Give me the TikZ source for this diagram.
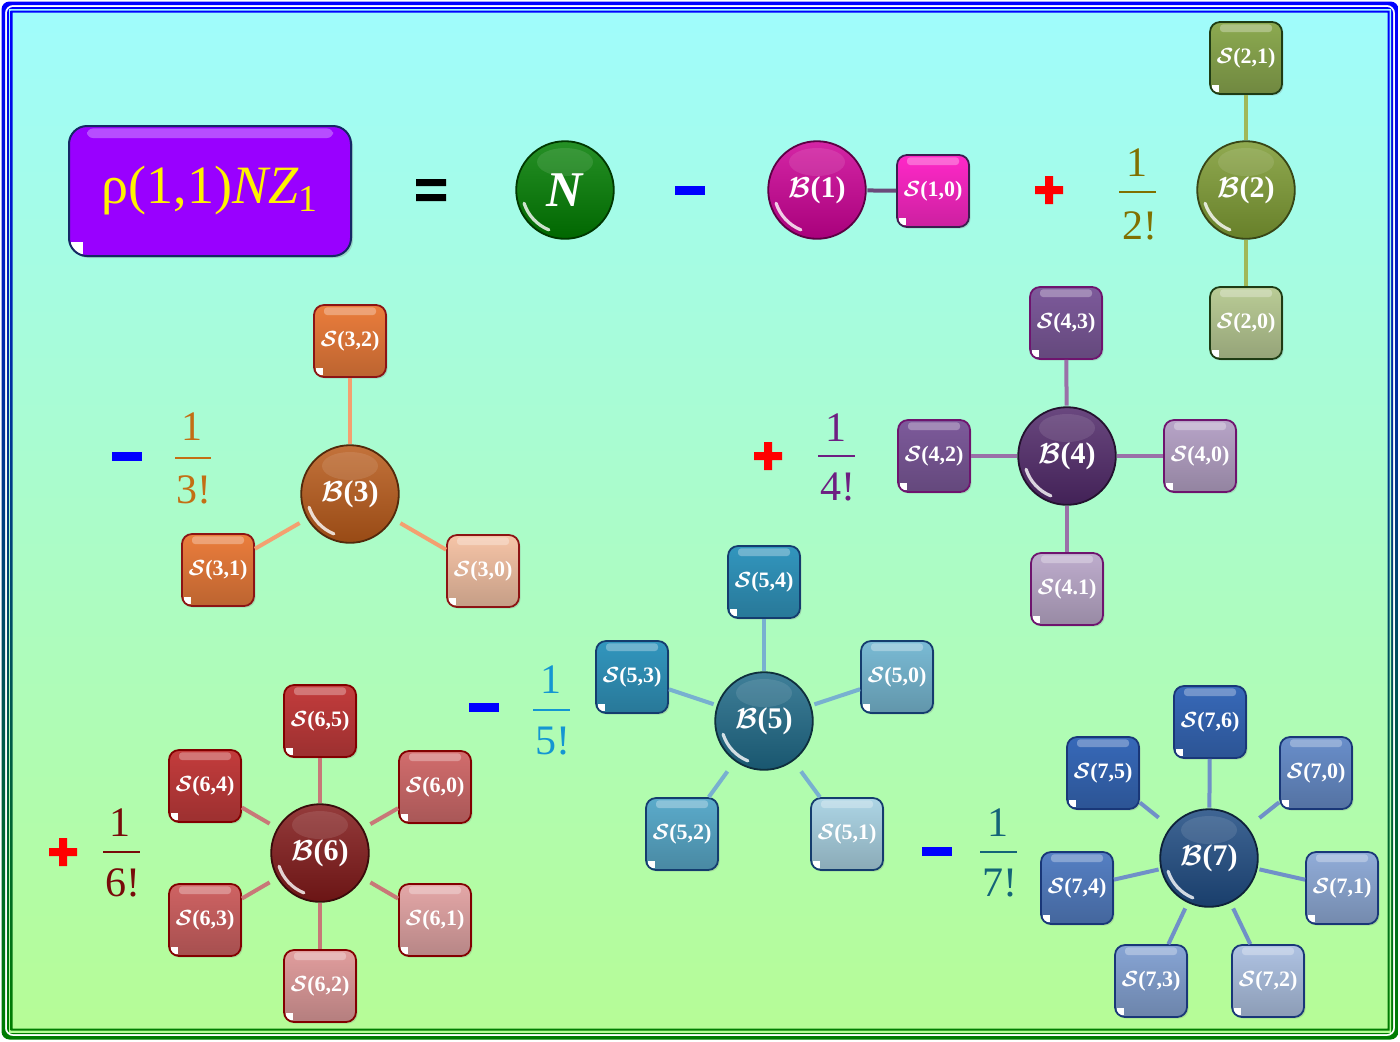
\documentclass[tikz,border=0pt]{standalone}
\usepackage{fontspec}
\setmainfont{Liberation Serif}
\usetikzlibrary{shadows}
\definecolor{bgtop}{RGB}{160,252,252}
\definecolor{bgbot}{RGB}{182,252,150}
\definecolor{frtop}{RGB}{0,0,255}
\definecolor{frbot}{RGB}{0,125,0}
\definecolor{mainpurple}{RGB}{153,0,255}
\definecolor{mainborder}{RGB}{20,40,100}
\definecolor{ngreen}{RGB}{0,125,0}
\definecolor{bA}{RGB}{205,0,150}
\definecolor{bB}{RGB}{125,155,50}
\definecolor{bC}{RGB}{185,90,25}
\definecolor{bD}{RGB}{80,40,105}
\definecolor{bE}{RGB}{30,105,135}
\definecolor{bF}{RGB}{130,25,25}
\definecolor{bG}{RGB}{30,75,130}
\definecolor{sA}{RGB}{255,40,200}
\definecolor{sB}{RGB}{140,170,80}
\definecolor{sC}{RGB}{235,125,60}
\definecolor{sD}{RGB}{125,90,155}
\definecolor{sE}{RGB}{50,150,190}
\definecolor{sF}{RGB}{195,60,60}
\definecolor{sG}{RGB}{55,105,185}
\definecolor{kA}{RGB}{60,30,80}
\definecolor{kB}{RGB}{30,60,20}
\definecolor{kC}{RGB}{140,20,20}
\definecolor{kD}{RGB}{110,20,110}
\definecolor{kE}{RGB}{20,60,110}
\definecolor{kF}{RGB}{130,0,0}
\definecolor{kG}{RGB}{25,55,120}
\definecolor{lA}{RGB}{106,74,122}
\definecolor{lB}{RGB}{160,184,88}
\definecolor{lC}{RGB}{244,160,112}
\definecolor{lD}{RGB}{154,112,168}
\definecolor{lE}{RGB}{120,176,208}
\definecolor{lF}{RGB}{200,120,120}
\definecolor{lG}{RGB}{112,144,200}
\definecolor{fB}{RGB}{128,112,0}
\definecolor{fC}{RGB}{195,110,20}
\definecolor{fD}{RGB}{110,30,130}
\definecolor{fE}{RGB}{20,150,210}
\definecolor{fF}{RGB}{120,10,10}
\definecolor{fG}{RGB}{20,100,120}
\newcommand\Slab[1]{{\boldmath$\mathcal{S}$}(#1)}
\newcommand\Blab[1]{{\boldmath$\mathcal{B}$}(#1)}
\begin{document}
\begin{tikzpicture}[x=0.5pt,y=-0.5pt,
  ball/.style={rectangle, minimum size=50pt, inner sep=0pt, text=white,
    font=\bfseries\fontsize{15}{18}\selectfont,
    path picture={
      \fill[top color=#1!85!white, bottom color=#1!82!black] (path picture bounding box.center) circle (24.4pt);
      \fill[white, opacity=0.1] ([yshift=14pt]path picture bounding box.center) ellipse (14pt and 7pt);
      \draw[white, line width=1.6pt, opacity=0.8, line cap=round] ([shift={(198:21.5pt)}]path picture bounding box.center) arc[start angle=198, end angle=248, radius=21.5pt];
      \draw[#1!45!black, line width=0.9pt] (path picture bounding box.center) circle (24.4pt);
    }},
  sbox/.style n args={3}{rectangle, rounded corners=5pt, minimum size=36pt, inner sep=0pt,
    top color=#1!#2!white, bottom color=#1!#2!white!80!black, draw=#3, line width=0.9pt,
    text=white, font=\bfseries\fontsize{11}{13}\selectfont,
    drop shadow={opacity=0.25, shadow xshift=0.8pt, shadow yshift=-0.8pt},
    path picture={
      \fill[white, opacity=0.3, rounded corners=1.5pt] ([shift={(5pt,-1.2pt)}]path picture bounding box.north west) rectangle ([shift={(-5pt,-5pt)}]path picture bounding box.north east);
      \fill[white, sharp corners] ([shift={(1.2pt,1.2pt)}]path picture bounding box.south west) rectangle ++(3.4pt,3.4pt);
    }},
  mainbox/.style={rectangle, rounded corners=9pt, minimum width=141pt, minimum height=65pt,
    fill=mainpurple, draw=mainborder, line width=1pt, text=yellow,
    font=\fontsize{27}{30}\selectfont,
    drop shadow={opacity=0.3, shadow xshift=1pt, shadow yshift=-1pt},
    path picture={
      \fill[white, opacity=0.3, rounded corners=3pt] ([shift={(9pt,-1.2pt)}]path picture bounding box.north west) rectangle ([shift={(-9pt,-6pt)}]path picture bounding box.north east);
      \fill[white, sharp corners] ([shift={(1.2pt,1.2pt)}]path picture bounding box.south west) rectangle ++(6pt,6pt);
    }},
  link/.style={draw=#1, line width=2pt},
  fracnum/.style={text=#1, inner sep=0pt, font=\fontsize{21}{24}\selectfont},
  fracbar/.style={draw=#1, line width=1.4pt},
  plusop/.pic={\fill[red] (-14,-4) rectangle (14,4) (-4,-14) rectangle (4,14);},
  minusop/.pic={\fill[blue] (-15,-4.5) rectangle (15,4.5);},
  equalsop/.pic={\fill[black] (-15,-11) rectangle (15,-4) (-15,4) rectangle (15,11);}
]
\useasboundingbox (0,0) rectangle (1400,1041);
% frame and background
\fill[white] (0,0) rectangle (1400,1041);
\shade[top color=frtop, bottom color=frbot, even odd rule, rounded corners=4pt] (1.5,1.5) rectangle (1398.5,1039.5) (5,5) rectangle (1395,1036);
\shade[top color=frtop, bottom color=frbot, even odd rule, rounded corners=3pt] (7,7) rectangle (1393,1034) (9,9) rectangle (1391,1032);
\shade[top color=bgtop, bottom color=bgbot] (9,9) rectangle (1391,1032);
\shade[top color=frtop, bottom color=frbot, even odd rule] (10.5,10.5) rectangle (1389.5,1030.5) (12.5,12.5) rectangle (1387.5,1028.5);

% left-hand side
\node[mainbox] (lhs) at (210,191) {ρ(1,1)\textit{NZ}\textsubscript{1}};
\pic at (431,190) {equalsop};
\node[ball=ngreen, font=\bfseries\itshape\fontsize{25}{28}\selectfont] (n) at (565,190) {N};
\pic at (690,190) {minusop};

% term 1
\node[ball=bA] (b1) at (817,190) {\Blab{1}};
\node[sbox={sA}{100}{kA}] (s10) at (933,191) {\Slab{1,0}};
\draw[link=lA] (b1) -- (s10);

% term 2
\pic at (1049,190) {plusop};
\node[fracnum=fB] (f2n) at (1137,163) {1};
\node[fracnum=fB] (f2d) at (1140,226) {2!};
\draw[fracbar=fB] (1119,192) -- (1156,192);
\node[ball=bB] (b2) at (1246,190) {\Blab{2}};
\node[sbox={sB}{100}{kB}] (s21) at (1246,58) {\Slab{2,1}};
\node[sbox={sB}{60}{kB}] (s20) at (1246,323) {\Slab{2,0}};
\draw[link=lB] (b2) -- (s21);
\draw[link=lB] (b2) -- (s20);

% term 3
\pic at (127,456) {minusop};
\node[fracnum=fC] (f3n) at (192,427) {1};
\node[fracnum=fC] (f3d) at (194,490) {3!};
\draw[fracbar=fC] (175,458) -- (211,458);
\node[ball=bC] (b3) at (350,494) {\Blab{3}};
\node[sbox={sC}{100}{kC}] (s32) at (350,341) {\Slab{3,2}};
\node[sbox={sC}{100}{kC}] (s31) at (218,570) {\Slab{3,1}};
\node[sbox={sC}{45}{kC}] (s30) at (483,571) {\Slab{3,0}};
\draw[link=lC] (b3) -- (s32);
\draw[link=lC] (b3) -- (s31);
\draw[link=lC] (b3) -- (s30);

% term 4
\pic at (768,456) {plusop};
\node[fracnum=fD] (f4n) at (836,428) {1};
\node[fracnum=fD] (f4d) at (838,487) {4!};
\draw[fracbar=fD] (818,456) -- (855,456);
\node[ball=bD] (b4) at (1067,456) {\Blab{4}};
\node[sbox={sD}{100}{kD}] (s43) at (1066,323) {\Slab{4,3}};
\node[sbox={sD}{100}{kD}] (s42) at (934,456) {\Slab{4,2}};
\node[sbox={sD}{55}{kD}] (s40) at (1200,456) {\Slab{4,0}};
\node[sbox={sD}{50}{kD}] (s41) at (1067,589) {\Slab{4.1}};
\draw[link=lD] (b4) -- (s43);
\draw[link=lD] (b4) -- (s42);
\draw[link=lD] (b4) -- (s40);
\draw[link=lD] (b4) -- (s41);

% term 5
\pic at (484,707) {minusop};
\node[fracnum=fE] (f5n) at (551,680) {1};
\node[fracnum=fE] (f5d) at (553,741) {5!};
\draw[fracbar=fE] (533,710) -- (570,710);
\node[ball=bE] (b5) at (764,721) {\Blab{5}};
\node[sbox={sE}{100}{kE}] (s54) at (764,582) {\Slab{5,4}};
\node[sbox={sE}{100}{kE}] (s53) at (632,677) {\Slab{5,3}};
\node[sbox={sE}{65}{kE}] (s50) at (897,677) {\Slab{5,0}};
\node[sbox={sE}{80}{kE}] (s52) at (682,834) {\Slab{5,2}};
\node[sbox={sE}{40}{kE}] (s51) at (847,834) {\Slab{5,1}};
\draw[link=lE] (b5) -- (s54);
\draw[link=lE] (b5) -- (s53);
\draw[link=lE] (b5) -- (s50);
\draw[link=lE] (b5) -- (s52);
\draw[link=lE] (b5) -- (s51);

% term 6
\pic at (63,852) {plusop};
\node[fracnum=fF] (f6n) at (120,823) {1};
\node[fracnum=fF] (f6d) at (123,883) {6!};
\draw[fracbar=fF] (103,852) -- (140,852);
\node[ball=bF] (b6) at (320,853) {\Blab{6}};
\node[sbox={sF}{100}{kF}] (s65) at (320,721) {\Slab{6,5}};
\node[sbox={sF}{100}{kF}] (s64) at (205,786) {\Slab{6,4}};
\node[sbox={sF}{75}{kF}] (s60) at (435,787) {\Slab{6,0}};
\node[sbox={sF}{80}{kF}] (s63) at (205,920) {\Slab{6,3}};
\node[sbox={sF}{45}{kF}] (s61) at (435,920) {\Slab{6,1}};
\node[sbox={sF}{50}{kF}] (s62) at (320,986) {\Slab{6,2}};
\draw[link=lF] (b6) -- (s65);
\draw[link=lF] (b6) -- (s64);
\draw[link=lF] (b6) -- (s60);
\draw[link=lF] (b6) -- (s63);
\draw[link=lF] (b6) -- (s61);
\draw[link=lF] (b6) -- (s62);

% term 7
\pic at (937,851) {minusop};
\node[fracnum=fG] (f7n) at (998,823) {1};
\node[fracnum=fG] (f7d) at (1000,883) {7!};
\draw[fracbar=fG] (980,852) -- (1017,852);
\node[ball=bG] (b7) at (1209,858) {\Blab{7}};
\node[sbox={sG}{100}{kG}] (s76) at (1210,722) {\Slab{7,6}};
\node[sbox={sG}{100}{kG}] (s75) at (1103,773) {\Slab{7,5}};
\node[sbox={sG}{75}{kG}] (s70) at (1316,773) {\Slab{7,0}};
\node[sbox={sG}{85}{kG}] (s74) at (1077,888) {\Slab{7,4}};
\node[sbox={sG}{55}{kG}] (s71) at (1342,888) {\Slab{7,1}};
\node[sbox={sG}{60}{kG}] (s73) at (1151,981) {\Slab{7,3}};
\node[sbox={sG}{40}{kG}] (s72) at (1268,981) {\Slab{7,2}};
\draw[link=lG] (b7) -- (s76);
\draw[link=lG] (b7) -- (s75);
\draw[link=lG] (b7) -- (s70);
\draw[link=lG] (b7) -- (s74);
\draw[link=lG] (b7) -- (s71);
\draw[link=lG] (b7) -- (s73);
\draw[link=lG] (b7) -- (s72);
\end{tikzpicture}
\end{document}
